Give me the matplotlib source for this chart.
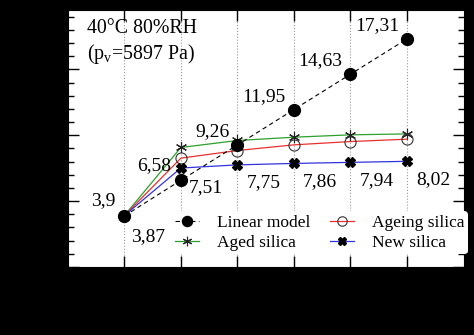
import numpy as np
import matplotlib.pyplot as plt
from matplotlib.ticker import MultipleLocator

plt.rcParams['font.family'] = ['Liberation Serif', 'DejaVu Serif']

# data
x = [0, 1, 2, 3, 4, 5]
linear = [3.87, 6.58, 9.26, 11.95, 14.63, 17.31]
aged = [3.9, 9.07, 9.6, 9.85, 10.03, 10.1]
ageing = [3.9, 8.26, 8.84, 9.27, 9.52, 9.7]
new = [3.9, 7.51, 7.75, 7.86, 7.94, 8.02]
linear_labels = ['3,87', '6,58', '9,26', '11,95', '14,63', '17,31']
new_labels = ['3,9', '7,51', '7,75', '7,86', '7,94', '8,02']

fig = plt.figure(figsize=(4.74, 3.35), dpi=100, facecolor='black')
ax = fig.add_axes([0.143, 0.203, 0.835, 0.767])
ax.set_facecolor('white')

ax.plot(x, linear, color='black', ls=(0, (4, 3)), lw=0.8, marker='o',
        ms=8.5, mfc='black', mec='black', label='Linear model', zorder=4)
ax.plot(x, aged, color='#2ca02c', lw=0.9, marker=(6, 2, 0), ms=8,
        mec='#222222', mew=0.8, label='Aged silica', zorder=3)
ax.plot(x, ageing, color='#e8312f', lw=0.9, marker='o', ms=8,
        mfc='none', mec='#333333', mew=0.8, label='Ageing silica', zorder=3)
ax.plot(x, new, color='#3333dd', lw=0.9, marker='X', ms=7,
        mfc='black', mec='black', label='New silica', zorder=3)

# value labels
lin_off = [(24, -21), (-27, 15), (-25, 13), (-30, 13), (-30, 14), (-30, 13)]
new_off = [(-21, 15), (25, -20), (26, -18), (26, -18), (26, -18), (26, -18)]
for xi, yi, t, o in zip(x, linear, linear_labels, lin_off):
    ax.annotate(t, (xi, yi), xytext=o, textcoords='offset pixels',
                ha='center', va='center', fontsize=14, zorder=6)
for xi, yi, t, o in zip(x, new, new_labels, new_off):
    ax.annotate(t, (xi, yi), xytext=o, textcoords='offset pixels',
                ha='center', va='center', fontsize=14, zorder=6)

ax.text(0.048, 0.928, '40°C 80%RH', transform=ax.transAxes, fontsize=14.3,
        va='center')
ax.text(0.048, 0.83, '(p$_\\mathregular{v}$=5897 Pa)', transform=ax.transAxes,
        fontsize=14.3, va='center')

ax.set_xlim(-1, 6)
ax.set_ylim(0, 19.5)
ax.set_xticks(x)
ax.yaxis.set_major_locator(MultipleLocator(5))
ax.yaxis.set_minor_locator(MultipleLocator(1))
ax.tick_params(which='both', direction='in', top=True, right=True,
               labelcolor='black', labelsize=12)
ax.tick_params(which='major', length=8, width=1)
ax.tick_params(which='minor', length=4, width=1)
ax.xaxis.grid(True, color='#999999', ls=':', lw=0.8)

leg = ax.legend(ncol=2, loc='lower left', bbox_to_anchor=(0.262, 0.05),
                frameon=True, framealpha=1, edgecolor='white', fontsize=12.5,
                handlelength=1.4, columnspacing=1.15, labelspacing=0.22,
                borderpad=0.2, handletextpad=1.0, borderaxespad=0,
                markerscale=0.85)
leg.get_frame().set_linewidth(0)
leg.set_zorder(5)

fig.savefig('out.png', dpi=100, facecolor='black')
